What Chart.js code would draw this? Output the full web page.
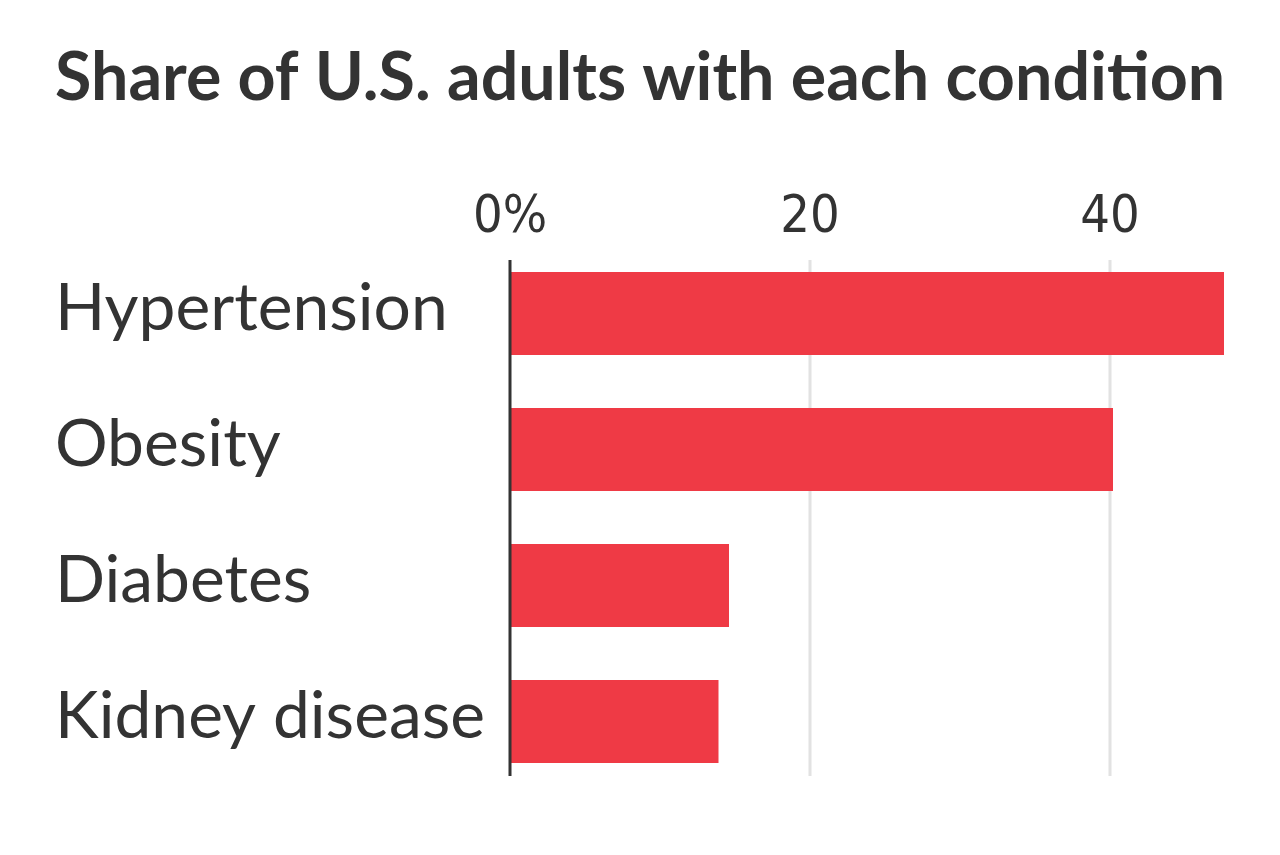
<!DOCTYPE html>
<html>
<head>
<script src="https://cdn.jsdelivr.net/npm/chart.js@4"></script>
<style>
  * { margin: 0; padding: 0; }
  body { background: #fff; width: 1280px; height: 855px; overflow: hidden; }
</style>
</head>
<body>
<canvas id="chart" width="1280" height="855"></canvas>
<script>
const categories = ['Hypertension', 'Obesity', 'Diabetes', 'Kidney disease'];
const shares = [47.6, 40.2, 14.6, 13.9];
const tickValues = [0, 20, 40];
const titleText = 'Share of U.S. adults with each condition';

const ink = '#333333';
const red = '#ef3a45';

const titleFamily = 'Lato, "Open Sans", sans-serif';
const labelFamily = 'Lato, "Noto Sans", sans-serif';
const tickFamily = '"Liberation Sans Narrow", "DejaVu Sans Condensed", sans-serif';

// pick a font size so the text spans the given width
function fitSize(text, weight, family, width) {
  const c = document.createElement('canvas').getContext('2d');
  c.font = weight + ' 100px ' + family;
  return Math.round(1000 * width / c.measureText(text).width) / 10;
}
const titleSize = fitSize(titleText, 'bold', titleFamily, 1170);
const labelSize = fitSize('Kidney disease', '400', labelFamily, 430);

// grid lines only span the bar area, zero line sits on top of the bars
const gridPlugin = {
  id: 'grid',
  beforeDatasetsDraw(chart) {
    const { ctx, chartArea, scales: { x } } = chart;
    ctx.save();
    ctx.lineWidth = 3;
    ctx.strokeStyle = '#e2e2e2';
    tickValues.slice(1).forEach(v => {
      const px = x.getPixelForValue(v);
      ctx.beginPath();
      ctx.moveTo(px, chartArea.top + 14.5);
      ctx.lineTo(px, chartArea.bottom - 13.5);
      ctx.stroke();
    });
    ctx.restore();
  },
  afterDatasetsDraw(chart) {
    const { ctx, chartArea, scales: { x } } = chart;
    const px = x.getPixelForValue(0);
    ctx.save();
    ctx.lineWidth = 3;
    ctx.strokeStyle = ink;
    ctx.beginPath();
    ctx.moveTo(px, chartArea.top + 14.5);
    ctx.lineTo(px, chartArea.bottom - 13.5);
    ctx.stroke();
    ctx.restore();
  }
};

new Chart(document.getElementById('chart'), {
  type: 'bar',
  data: {
    labels: categories,
    datasets: [{
      data: shares,
      backgroundColor: red,
      borderWidth: 0,
      barPercentage: 0.61,
      categoryPercentage: 1
    }]
  },
  options: {
    indexAxis: 'y',
    responsive: false,
    animation: false,
    layout: { padding: { left: 55, right: 20, top: 0, bottom: 65.5 } },
    plugins: {
      legend: { display: false },
      tooltip: { enabled: false },
      title: {
        display: true,
        text: titleText,
        align: 'start',
        color: ink,
        font: { family: titleFamily, size: titleSize, weight: 'bold', lineHeight: 1.2 },
        padding: { top: 39, bottom: 111 - 1.2 * titleSize }
      }
    },
    scales: {
      x: {
        position: 'top',
        min: 0,
        max: 50,
        afterBuildTicks: s => { s.ticks = tickValues.map(v => ({ value: v })); },
        afterFit: s => { s.height = 95.5; },
        grid: { display: false, drawTicks: false },
        border: { display: false },
        ticks: {
          callback: v => v === 0 ? '0%' : v,
          color: ink,
          padding: 1,
          maxRotation: 0,
          autoSkip: false,
          font: { family: tickFamily, size: 52, lineHeight: 1 }
        }
      },
      y: {
        afterFit: s => { s.width = 455; },
        grid: { display: false },
        border: { display: false },
        ticks: {
          crossAlign: 'far',
          color: ink,
          padding: 0,
          labelOffset: -5,
          font: { family: labelFamily, size: labelSize, weight: '400' }
        }
      }
    }
  },
  plugins: [gridPlugin]
});
</script>
</body>
</html>
